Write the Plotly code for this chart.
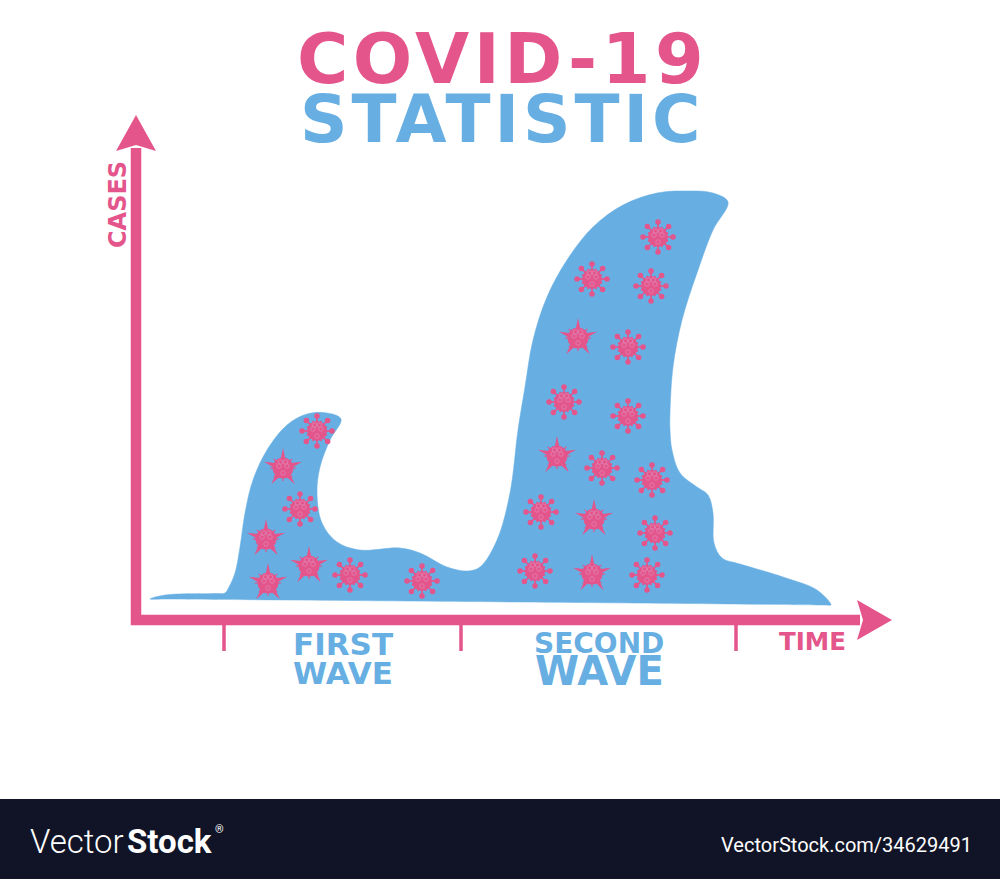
import math
import plotly.graph_objects as go

# ---- data (time, cases), origin at the corner of the two axes ----
wave_time = [14, 29, 80, 89, 93, 99, 104, 109, 117, 131, 151, 171, 191, 205, 194, 184, 181, 186, 201, 224, 264, 284,
             311, 331, 344, 361, 374, 382, 389, 397, 411, 431, 457, 487, 521, 551, 577, 592, 577, 561, 546,
             537, 534, 534, 536, 544, 561, 572, 577, 578, 586, 604, 647, 681, 695, 690, 600, 384, 150, 30, 14]
wave_cases = [21, 25, 26.5, 27, 33, 47, 73, 107, 140, 170, 195, 206, 207, 201, 180, 153, 127, 97, 78, 70, 72, 67,
              53, 49, 53, 80, 127, 190, 233, 280, 323, 360, 393, 415, 427, 429, 427, 418, 390, 347, 300,
              253, 207, 190, 170, 147, 133, 125, 107, 77, 62, 56, 43, 30, 15, 15, 16, 18, 20, 21, 21]

knob_time = [181, 164, 214, 286, 522, 456, 515, 492, 428, 492, 466, 516, 405, 519, 399, 511]
knob_cases = [189, 111, 45, 39, 383, 341, 334, 273, 218, 204, 152, 140, 108, 87, 49, 45]
spike_time = [147, 130, 173, 132, 442, 421, 458, 456]
spike_cases = [152, 81, 54, 37, 282, 164, 101, 46]

wave_bounds = [88, 325, 600]
axis_time_end = 724
axis_cases_end = 472

PINK = "#E4558B"
BLUE = "#67AEE2"
FONT = "DejaVu Sans"


def virus_layers(xs, ys, spokes, reach):
    lx, ly, kx, ky = [], [], [], []
    for x, y in zip(xs, ys):
        for i in range(spokes):
            a = 2 * math.pi * i / spokes + math.pi / 2
            long_one = i % 2 == 0
            r = reach if long_one else reach * 0.72
            lx += [x, x + r * math.cos(a), None]
            ly += [y, y + r * math.sin(a), None]
            if long_one:
                kx.append(x + r * math.cos(a))
                ky.append(y + r * math.sin(a))
    return lx, ly, kx, ky


def star_spikes(xs, ys, points, reach, half_width):
    px, py = [], []
    for x, y in zip(xs, ys):
        for i in range(points):
            a = 2 * math.pi * i / points + math.pi / 2
            nx, ny = -math.sin(a), math.cos(a)
            base = 5
            bx0, by0 = x + base * math.cos(a), y + base * math.sin(a)
            px += [bx0 + half_width * nx, x + reach * math.cos(a), bx0 - half_width * nx, bx0 + half_width * nx, None]
            py += [by0 + half_width * ny, y + reach * math.sin(a), by0 - half_width * ny, by0 + half_width * ny, None]
    return px, py


fig = go.Figure()

# area
fig.add_trace(go.Scatter(x=wave_time, y=wave_cases, mode="lines", fill="toself", fillcolor=BLUE,
                         line=dict(color=BLUE, width=0.5, shape="spline", smoothing=1.0), hoverinfo="skip"))

# viruses
lx, ly, kx, ky = virus_layers(knob_time, knob_cases, 16, 15)
fig.add_trace(go.Scatter(x=lx, y=ly, mode="lines", line=dict(color=PINK, width=1.7), hoverinfo="skip"))
fig.add_trace(go.Scatter(x=kx, y=ky, mode="markers", marker=dict(color=PINK, size=5.5), hoverinfo="skip"))
fig.add_trace(go.Scatter(x=knob_time, y=knob_cases, mode="markers",
                         marker=dict(color=PINK, size=20, line=dict(width=0)), hoverinfo="skip"))
sx, sy, _, _ = virus_layers(spike_time, spike_cases, 16, 13)
fig.add_trace(go.Scatter(x=sx, y=sy, mode="lines", line=dict(color=PINK, width=1.2), hoverinfo="skip"))
px, py = star_spikes(spike_time, spike_cases, 5, 20, 3.2)
fig.add_trace(go.Scatter(x=px, y=py, mode="lines", fill="toself", fillcolor=PINK,
                         line=dict(color=PINK, width=0), hoverinfo="skip"))
fig.add_trace(go.Scatter(x=spike_time, y=spike_cases, mode="markers",
                         marker=dict(color=PINK, size=21, line=dict(width=0)), hoverinfo="skip"))
all_t = knob_time + spike_time
all_c = knob_cases + spike_cases
rx, ry = [], []
for t, c in zip(all_t, all_c):
    rx += [t - 4, t + 4, t, t - 2.5, t + 2.5]
    ry += [c + 2, c + 2, c - 5, c + 6, c + 6]
fig.add_trace(go.Scatter(x=rx, y=ry, mode="markers",
                         marker=dict(symbol="circle-open", color="#E07FB0", size=4.5, line=dict(width=0.9)),
                         hoverinfo="skip"))

# axes with arrow heads
fig.add_trace(go.Scatter(x=[0, 0, axis_time_end], y=[axis_cases_end, 0, 0], mode="lines",
                         line=dict(color=PINK, width=10.5), hoverinfo="skip"))
head = 35
half = 20
notch = 6
fig.add_trace(go.Scatter(x=[axis_time_end - 3, axis_time_end + head - 3, axis_time_end - 3, axis_time_end + notch - 3, axis_time_end - 3],
                         y=[half, 0, -half, 0, half], mode="lines", fill="toself", fillcolor=PINK,
                         line=dict(color=PINK, width=0), hoverinfo="skip"))
fig.add_trace(go.Scatter(x=[-half, 0, half, 0, -half],
                         y=[axis_cases_end - 3, axis_cases_end + head - 3 + 1, axis_cases_end - 3, axis_cases_end + notch - 3, axis_cases_end - 3],
                         mode="lines", fill="toself", fillcolor=PINK, line=dict(color=PINK, width=0), hoverinfo="skip"))
bx, by = [], []
for b in wave_bounds:
    bx += [b, b, None]
    by += [-5, -31, None]
fig.add_trace(go.Scatter(x=bx, y=by, mode="lines", line=dict(color=PINK, width=3.5), hoverinfo="skip"))


def label(x, y, text, size, color, family=FONT, weight=700, angle=0, anchor="center"):
    fig.add_annotation(x=x, y=y, text=text, showarrow=False, xanchor=anchor, yanchor="middle",
                       textangle=angle, font=dict(family=family, size=size, color=color, weight=weight))


label(366, 561, "COVID-19", 70, PINK)
label(366, 501, "STATISTIC", 66, BLUE)
label(-18, 415, "CASES", 24, PINK, angle=-90)
label(207, -24, "FIRST", 31, BLUE)
label(207, -53, "WAVE", 31, BLUE)
label(463, -23, "SECOND", 28, BLUE)
label(463, -51, "WAVE", 40, BLUE)
label(676, -21, "TIME", 24.5, PINK)

# footer band
fig.add_shape(type="rect", x0=-136, x1=864, y0=-179, y1=-259, fillcolor="#101426", line=dict(width=0), layer="above")
fig.add_annotation(x=-108, y=-221, text="Vector", showarrow=False, xanchor="left", yanchor="middle",
                   font=dict(family="Roboto", size=33, color="white", weight=300))
fig.add_annotation(x=-11, y=-221, text="<b>Stock</b>", showarrow=False, xanchor="left", yanchor="middle",
                   font=dict(family="Roboto", size=33, color="white"))
fig.add_annotation(x=90, y=-209, text="®", showarrow=False, xanchor="right", yanchor="middle",
                   font=dict(family="Roboto", size=11, color="white"))
fig.add_annotation(x=838, y=-225, text="VectorStock.com/34629491", showarrow=False, xanchor="right", yanchor="middle",
                   font=dict(family="Roboto", size=20, color="white"))

fig.update_layout(width=1000, height=879, margin=dict(l=0, r=0, t=0, b=0), showlegend=False,
                  paper_bgcolor="white", plot_bgcolor="white",
                  xaxis=dict(range=[-136, 864], visible=False, fixedrange=True),
                  yaxis=dict(range=[-259, 620], visible=False, fixedrange=True))
post = """
document.body.style.margin='0';
document.documentElement.style.overflow='hidden';
document.querySelectorAll('.annotation-text').forEach(function(t){
  if(t.textContent==='COVID-19'){t.style.letterSpacing='4.5px';}
  if(t.textContent==='STATISTIC'){t.style.letterSpacing='4px';}
});
"""
fig.write_html("out.html", config=dict(displayModeBar=False), post_script=post)
